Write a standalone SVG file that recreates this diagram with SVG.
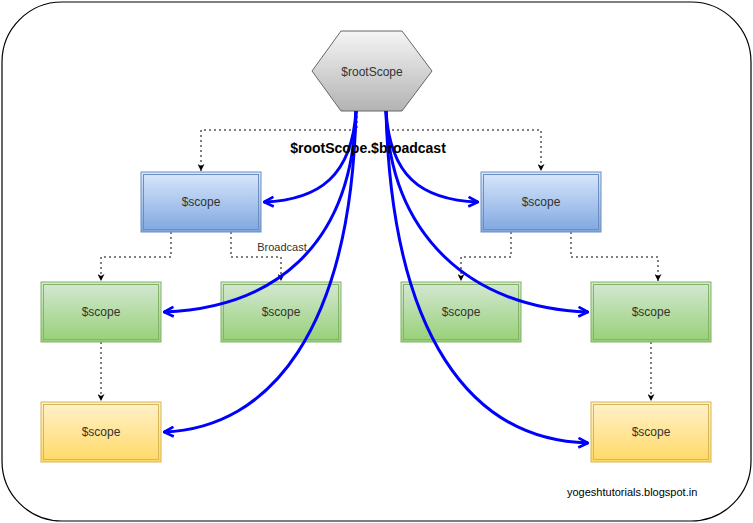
<svg xmlns="http://www.w3.org/2000/svg" width="753" height="523" viewBox="0 0 753 523">
<style>
.t{font-family:"Liberation Sans",Arial,sans-serif;font-size:12px;fill:#333333;text-anchor:middle;dominant-baseline:central}
.dot{fill:none;stroke:#000;stroke-width:1;stroke-dasharray:2,3}
.blue{fill:none;stroke:#0000ff;stroke-width:3}
.bl{fill:url(#gb);stroke:#6c8ebf}
.gr{fill:url(#gg);stroke:#82b366}
.ye{fill:url(#gy);stroke:#d6b656}
.in{fill:none}
</style>
<defs>
<linearGradient id="gb" x1="0" y1="0" x2="0" y2="1"><stop offset="0" stop-color="#dae8fc"/><stop offset="1" stop-color="#7ea6e0"/></linearGradient>
<linearGradient id="gg" x1="0" y1="0" x2="0" y2="1"><stop offset="0" stop-color="#d5e8d4"/><stop offset="1" stop-color="#97d077"/></linearGradient>
<linearGradient id="gy" x1="0" y1="0" x2="0" y2="1"><stop offset="0" stop-color="#fff2cc"/><stop offset="1" stop-color="#ffd966"/></linearGradient>
<linearGradient id="gh" x1="0" y1="0" x2="0" y2="1"><stop offset="0" stop-color="#f5f5f5"/><stop offset="1" stop-color="#b3b3b3"/></linearGradient>
<marker id="ab" viewBox="0 0 10 10" refX="9" refY="5" markerWidth="4" markerHeight="4" orient="auto" markerUnits="strokeWidth">
<path d="M1,1 L9,5 L1,9" fill="none" stroke="#0000ff" stroke-width="2.2"/>
</marker>
<marker id="ak" viewBox="0 0 10 10" refX="10" refY="5" markerWidth="7" markerHeight="7" orient="auto" markerUnits="userSpaceOnUse">
<path d="M0,0 L10,5 L0,10 L3,5 Z" fill="#000"/>
</marker>
</defs>
<rect x="2" y="2" width="749" height="519" rx="60" ry="60" fill="#fff" stroke="#000" stroke-width="1.2"/>

<g id="connectors">
<path class="dot" d="M357,111 V130 H201 V171" marker-end="url(#ak)"/>
<path class="dot" d="M386,111 V130 H541 V171" marker-end="url(#ak)"/>
<path class="dot" d="M171,232 V257 H101 V281" marker-end="url(#ak)"/>
<path class="dot" d="M231,232 V257 H281 V281" marker-end="url(#ak)"/>
<path class="dot" d="M511,232 V257 H461 V281" marker-end="url(#ak)"/>
<path class="dot" d="M571,232 V257 H658 V281" marker-end="url(#ak)"/>
<path class="dot" d="M101,342 V401" marker-end="url(#ak)"/>
<path class="dot" d="M651,342 V401" marker-end="url(#ak)"/>
<text x="282" y="247" class="t" style="font-size:11px">Broadcast</text>
</g>

<g id="rootScope">
<polygon points="312,71 341,31 402,31 432,71 402,111 341,111" fill="url(#gh)" stroke="#666666"/>
<text x="372" y="72" class="t">$rootScope</text>
</g>

<g id="scopeBlueLeft">
<rect x="141" y="172" width="120" height="60" class="bl"/>
<rect x="143.5" y="174.5" width="115" height="55" class="in" stroke="#6c8ebf"/>
<text x="201" y="202" class="t">$scope</text>
</g>
<g id="scopeBlueRight">
<rect x="481" y="172" width="120" height="60" class="bl"/>
<rect x="483.5" y="174.5" width="115" height="55" class="in" stroke="#6c8ebf"/>
<text x="541" y="202" class="t">$scope</text>
</g>
<g id="scopeGreen1">
<rect x="41" y="282" width="120" height="60" class="gr"/>
<rect x="43.5" y="284.5" width="115" height="55" class="in" stroke="#82b366"/>
<text x="101" y="312" class="t">$scope</text>
</g>
<g id="scopeGreen2">
<rect x="221" y="282" width="120" height="60" class="gr"/>
<rect x="223.5" y="284.5" width="115" height="55" class="in" stroke="#82b366"/>
<text x="281" y="312" class="t">$scope</text>
</g>
<g id="scopeGreen3">
<rect x="401" y="282" width="120" height="60" class="gr"/>
<rect x="403.5" y="284.5" width="115" height="55" class="in" stroke="#82b366"/>
<text x="461" y="312" class="t">$scope</text>
</g>
<g id="scopeGreen4">
<rect x="591" y="282" width="120" height="60" class="gr"/>
<rect x="593.5" y="284.5" width="115" height="55" class="in" stroke="#82b366"/>
<text x="651" y="312" class="t">$scope</text>
</g>
<g id="scopeYellowLeft">
<rect x="41" y="402" width="120" height="60" class="ye"/>
<rect x="43.5" y="404.5" width="115" height="55" class="in" stroke="#d6b656"/>
<text x="101" y="432" class="t">$scope</text>
</g>
<g id="scopeYellowRight">
<rect x="591" y="402" width="120" height="60" class="ye"/>
<rect x="593.5" y="404.5" width="115" height="55" class="in" stroke="#d6b656"/>
<text x="651" y="432" class="t">$scope</text>
</g>

<g id="broadcastArrows">
<path class="blue" d="M356,111 C352,175 320,200 264,202" marker-end="url(#ab)"/>
<path class="blue" d="M356,111 C352,250 270,308 164,312" marker-end="url(#ab)"/>
<path class="blue" d="M356,111 C351,330 270,428 164,432" marker-end="url(#ab)"/>
<path class="blue" d="M386,111 C390,175 420,200 478,202" marker-end="url(#ab)"/>
<path class="blue" d="M386,111 C390,235 470,308 588,312" marker-end="url(#ab)"/>
<path class="blue" d="M386,111 C392,335 470,440 588,443" marker-end="url(#ab)"/>
</g>

<text x="368" y="148" class="t" style="font-size:14px;font-weight:bold;fill:#000">$rootScope.$broadcast</text>
<text x="567" y="492" style="font-family:'Liberation Sans',Arial,sans-serif;font-size:11px;fill:#000;dominant-baseline:central">yogeshtutorials.blogspot.in</text>
</svg>
